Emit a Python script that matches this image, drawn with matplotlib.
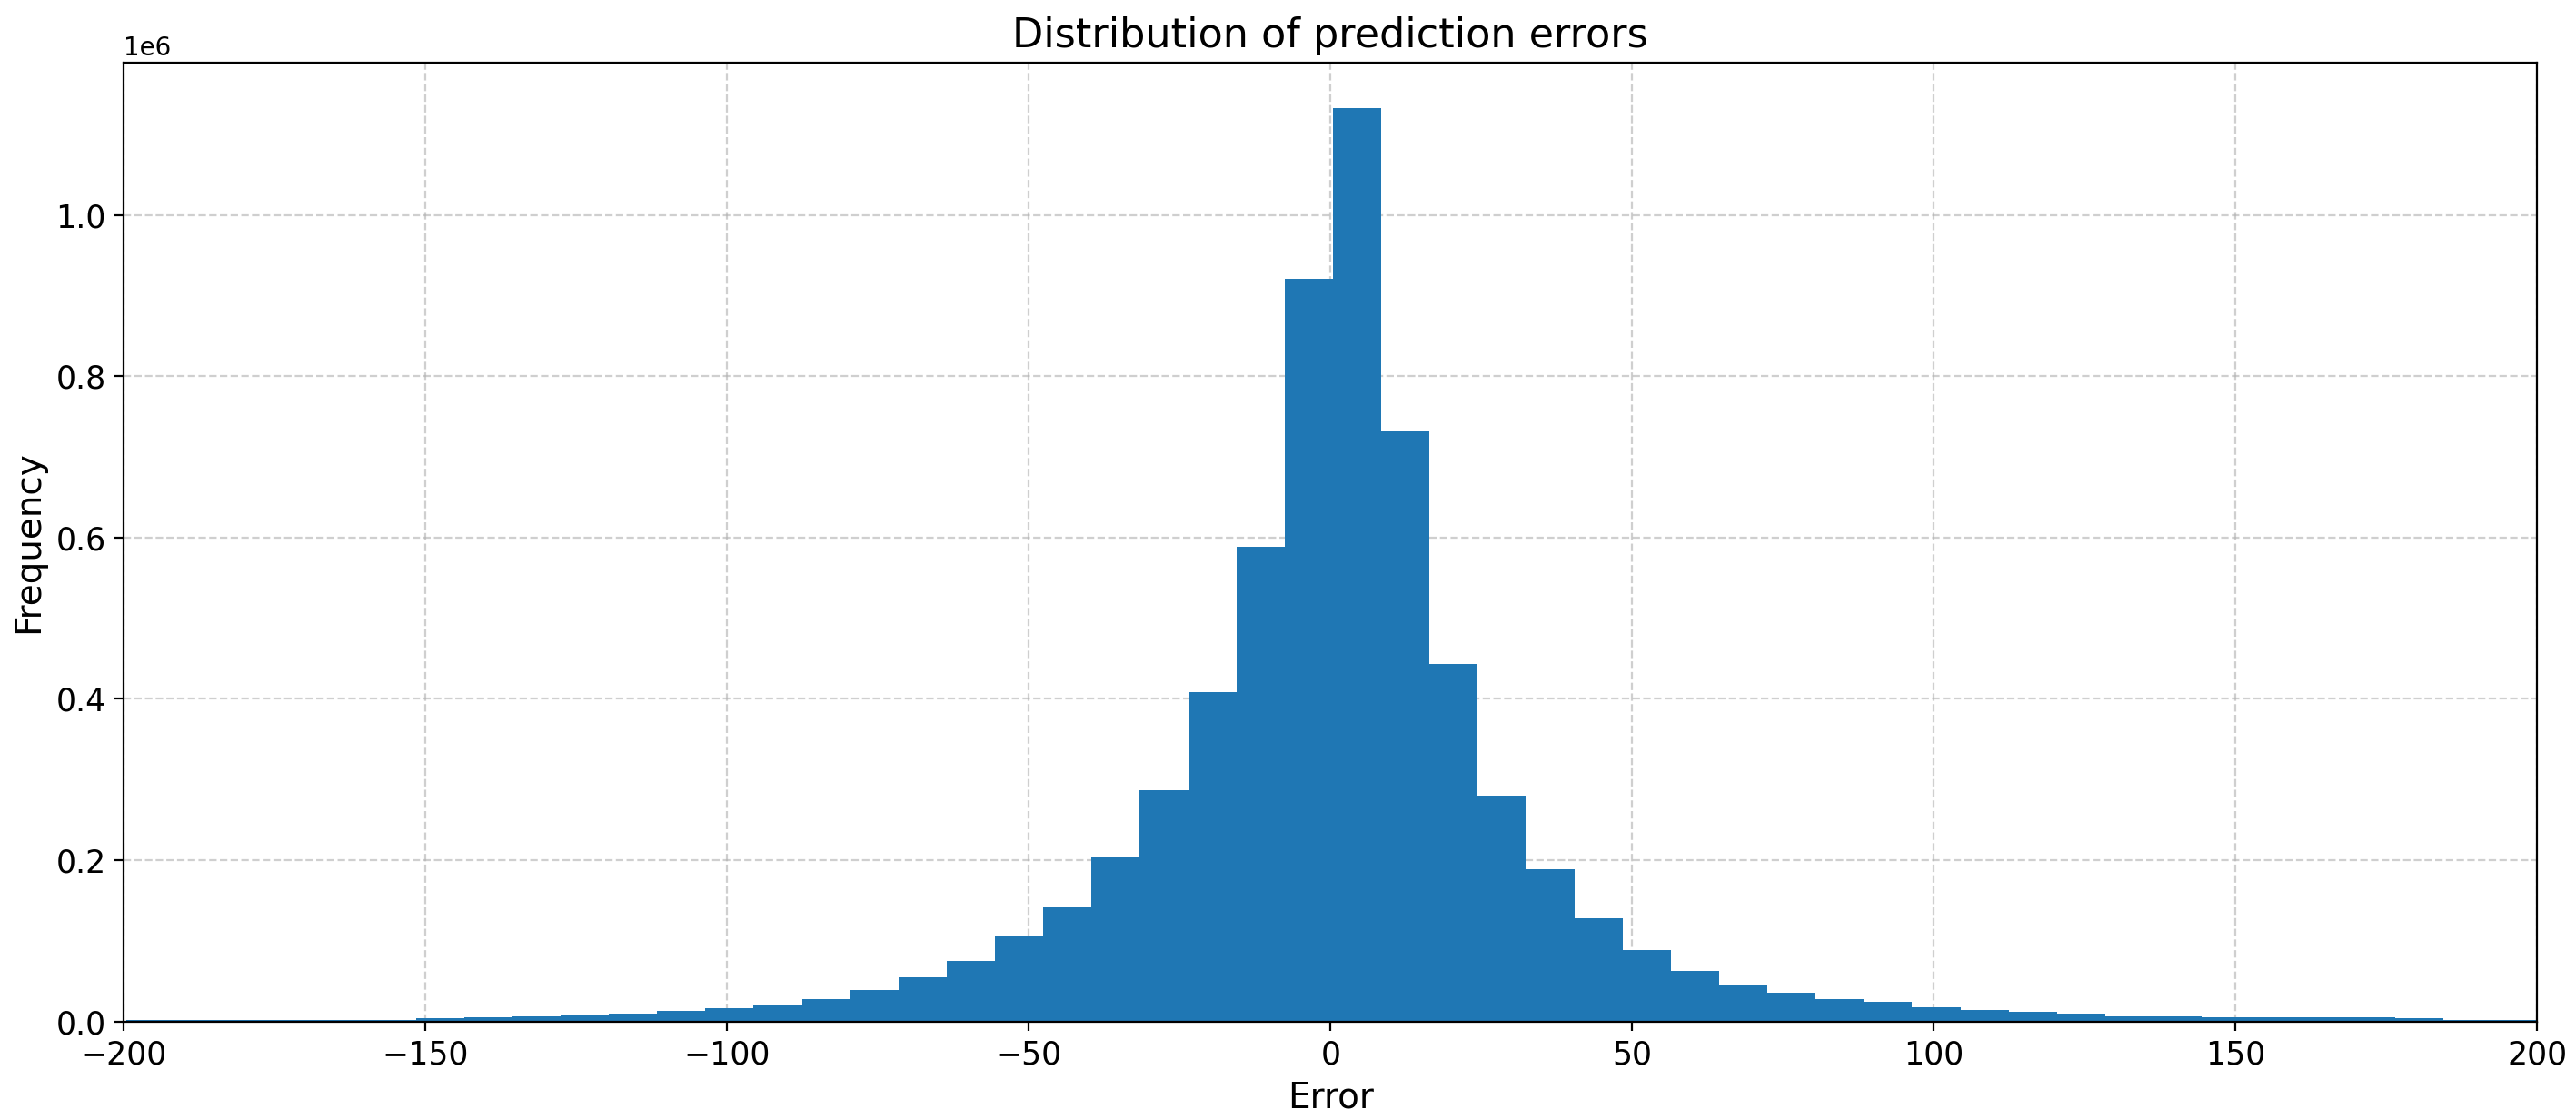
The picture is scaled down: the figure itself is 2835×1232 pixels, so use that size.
import numpy as np
import matplotlib

matplotlib.use("Agg")
import matplotlib.pyplot as plt

# histogram of prediction errors, bin width 8, counts in millions
bin_start = -199.6
bin_width = 8.0
counts_m = [
    0.002, 0.002, 0.002, 0.002, 0.002, 0.002, 0.004, 0.005, 0.007, 0.008,
    0.010, 0.013, 0.017, 0.020, 0.028, 0.039, 0.055, 0.075, 0.106, 0.142,
    0.205, 0.287, 0.409, 0.589, 0.921, 1.132, 0.732, 0.443, 0.280, 0.189,
    0.128, 0.089, 0.063, 0.045, 0.036, 0.028, 0.024, 0.018, 0.014, 0.012,
    0.010, 0.007, 0.006, 0.005, 0.005, 0.005, 0.005, 0.004, 0.002, 0.002,
]

counts = np.array(counts_m) * 1e6
edges = bin_start + bin_width * np.arange(len(counts) + 1)
centers = (edges[:-1] + edges[1:]) / 2

fig = plt.figure(figsize=(14.175, 6.16), dpi=200)
ax = fig.add_axes([0.048, 0.087, 0.937, 0.857])
ax.hist(centers, bins=edges, weights=counts, color="#1f77b4")
ax.set_xlim(-200, 200)
ax.grid(True, linestyle="--", alpha=0.6)
ax.set_axisbelow(True)
ax.set_title("Distribution of prediction errors", fontsize=16)
ax.set_xlabel("Error", fontsize=14)
ax.set_ylabel("Frequency", fontsize=14)
ax.tick_params(labelsize=12.5)
fig.savefig("out.png", dpi=200)
